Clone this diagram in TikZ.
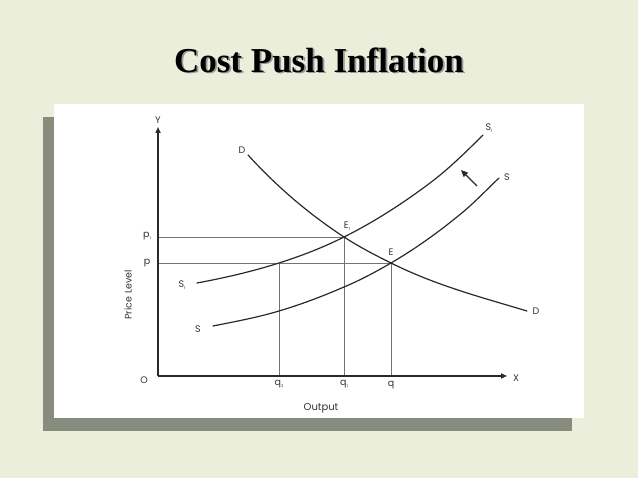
\documentclass[tikz,border=0pt]{standalone}
\usepackage{fontspec}
\setmainfont{Liberation Serif}
\newfontfamily\lblfont{Poppins}
\usetikzlibrary{arrows.meta}
\definecolor{bgc}{HTML}{ECEEDC}
\definecolor{shc}{HTML}{878C7E}
\definecolor{ink}{HTML}{2A2A2A}
\definecolor{lbl}{HTML}{333333}
\newcommand{\sbs}[1]{\raisebox{-0.35ex}{\fontsize{4}{4}\selectfont #1}}
\newcommand{\shadowtext}[1]{\makebox[0pt][l]{\hspace{1.8pt}\raisebox{-1.4pt}{\color{black!40}#1}}#1}
\tikzset{
  axisline/.style={line width=2pt, draw=ink},
  curve/.style={line width=1.2pt, draw=ink, line cap=round},
  guide/.style={line width=0.7pt, draw=black!55},
  lab/.style={font=\lblfont\fontsize{9.5}{10}\selectfont, text=lbl, inner sep=0pt},
}
\begin{document}
\begin{tikzpicture}[x=1pt,y=-1pt]
\useasboundingbox (0,0) rectangle (638,478);
\fill[bgc] (0,0) rectangle (638,478);
\fill[shc] (43,117) rectangle (572,431);
\fill[white] (54,104) rectangle (584,418);
% title
\node[font=\bfseries\fontsize{35}{36}\selectfont, text=black] (title) at (319,61) {\shadowtext{Cost Push Inflation}};
% coordinates
\coordinate (O) at (158,376);
\coordinate (Ytip) at (158,127);
\coordinate (Xtip) at (507,376);
\coordinate (E1) at (344,237);
\coordinate (E) at (391,263);
\coordinate (A) at (279,263);
\coordinate (p1) at (158,237);
\coordinate (p) at (158,263);
\coordinate (q2) at (279,376);
\coordinate (q1) at (344,376);
\coordinate (q) at (391,376);
% guides
\draw[guide] (p1) -- (E1) -- (q1);
\draw[guide] (p) -- (E) -- (q);
\draw[guide] (A) -- (q2);
% demand curve D
\draw[curve] (248,155) .. controls (280,190) and (312,216) .. (E1)
  .. controls (360,247.4) and (375,255) .. (E)
  .. controls (436,285.5) and (482,297.5) .. (527,311);
% supply curve S1
\draw[curve] (197,283) .. controls (224,278) and (252,271.6) .. (A)
  .. controls (301,256) and (322,248) .. (E1)
  .. controls (373,222.5) and (401,204.75) .. (430,183)
  .. controls (448,169.5) and (465,153) .. (483,135);
% supply curve S
\draw[curve] (213,326) .. controls (235,321.6) and (257,317.6) .. (279,311)
  .. controls (301,304.5) and (322,296.5) .. (344,287)
  .. controls (360,280.3) and (375,272.3) .. (E)
  .. controls (415,249) and (439,232) .. (463,212)
  .. controls (475,202) and (487,189.4) .. (499,178);
% shift arrow
\coordinate (sa) at (477,186);
\coordinate (sb) at (461,170);
\draw[line width=1.2pt, draw=ink, -{Triangle[length=7pt,width=6pt]}] (sa) -- (sb);
% axes
\draw[axisline, -{Triangle[length=6pt,width=5pt]}] (O) -- (Ytip);
\draw[axisline, -{Triangle[length=6pt,width=5pt]}] (O) -- (Xtip);
% labels
\node[lab] (ly) at (158,120) {Y};
\node[lab] (lx) at (516,378) {X};
\node[lab] (lo) at (144,380) {O};
\node[lab] (lp1) at (147,236) {p\sbs{1}};
\node[lab] (lp) at (147,263) {p};
\node[lab] (lq2) at (279,384) {q\sbs{2}};
\node[lab] (lq1) at (344,384) {q\sbs{1}};
\node[lab] (lq) at (391,385) {q};
\node[lab] (lE1) at (347,226) {E\sbs{1}};
\node[lab] (lE) at (391,252) {E};
\node[lab] (lD1) at (242,150) {D};
\node[lab] (lD2) at (536,311) {D};
\node[lab] (lS1a) at (182,285) {S\sbs{1}};
\node[lab] (lSa) at (198,329) {S};
\node[lab] (lS1b) at (489,128) {S\sbs{1}};
\node[lab] (lSb) at (507,177) {S};
\node[lab, rotate=90] (lpl) at (128,295) {Price Level};
\node[lab, font=\lblfont\fontsize{10}{11}\selectfont] (lout) at (321,408) {Output};
\end{tikzpicture}
\end{document}
